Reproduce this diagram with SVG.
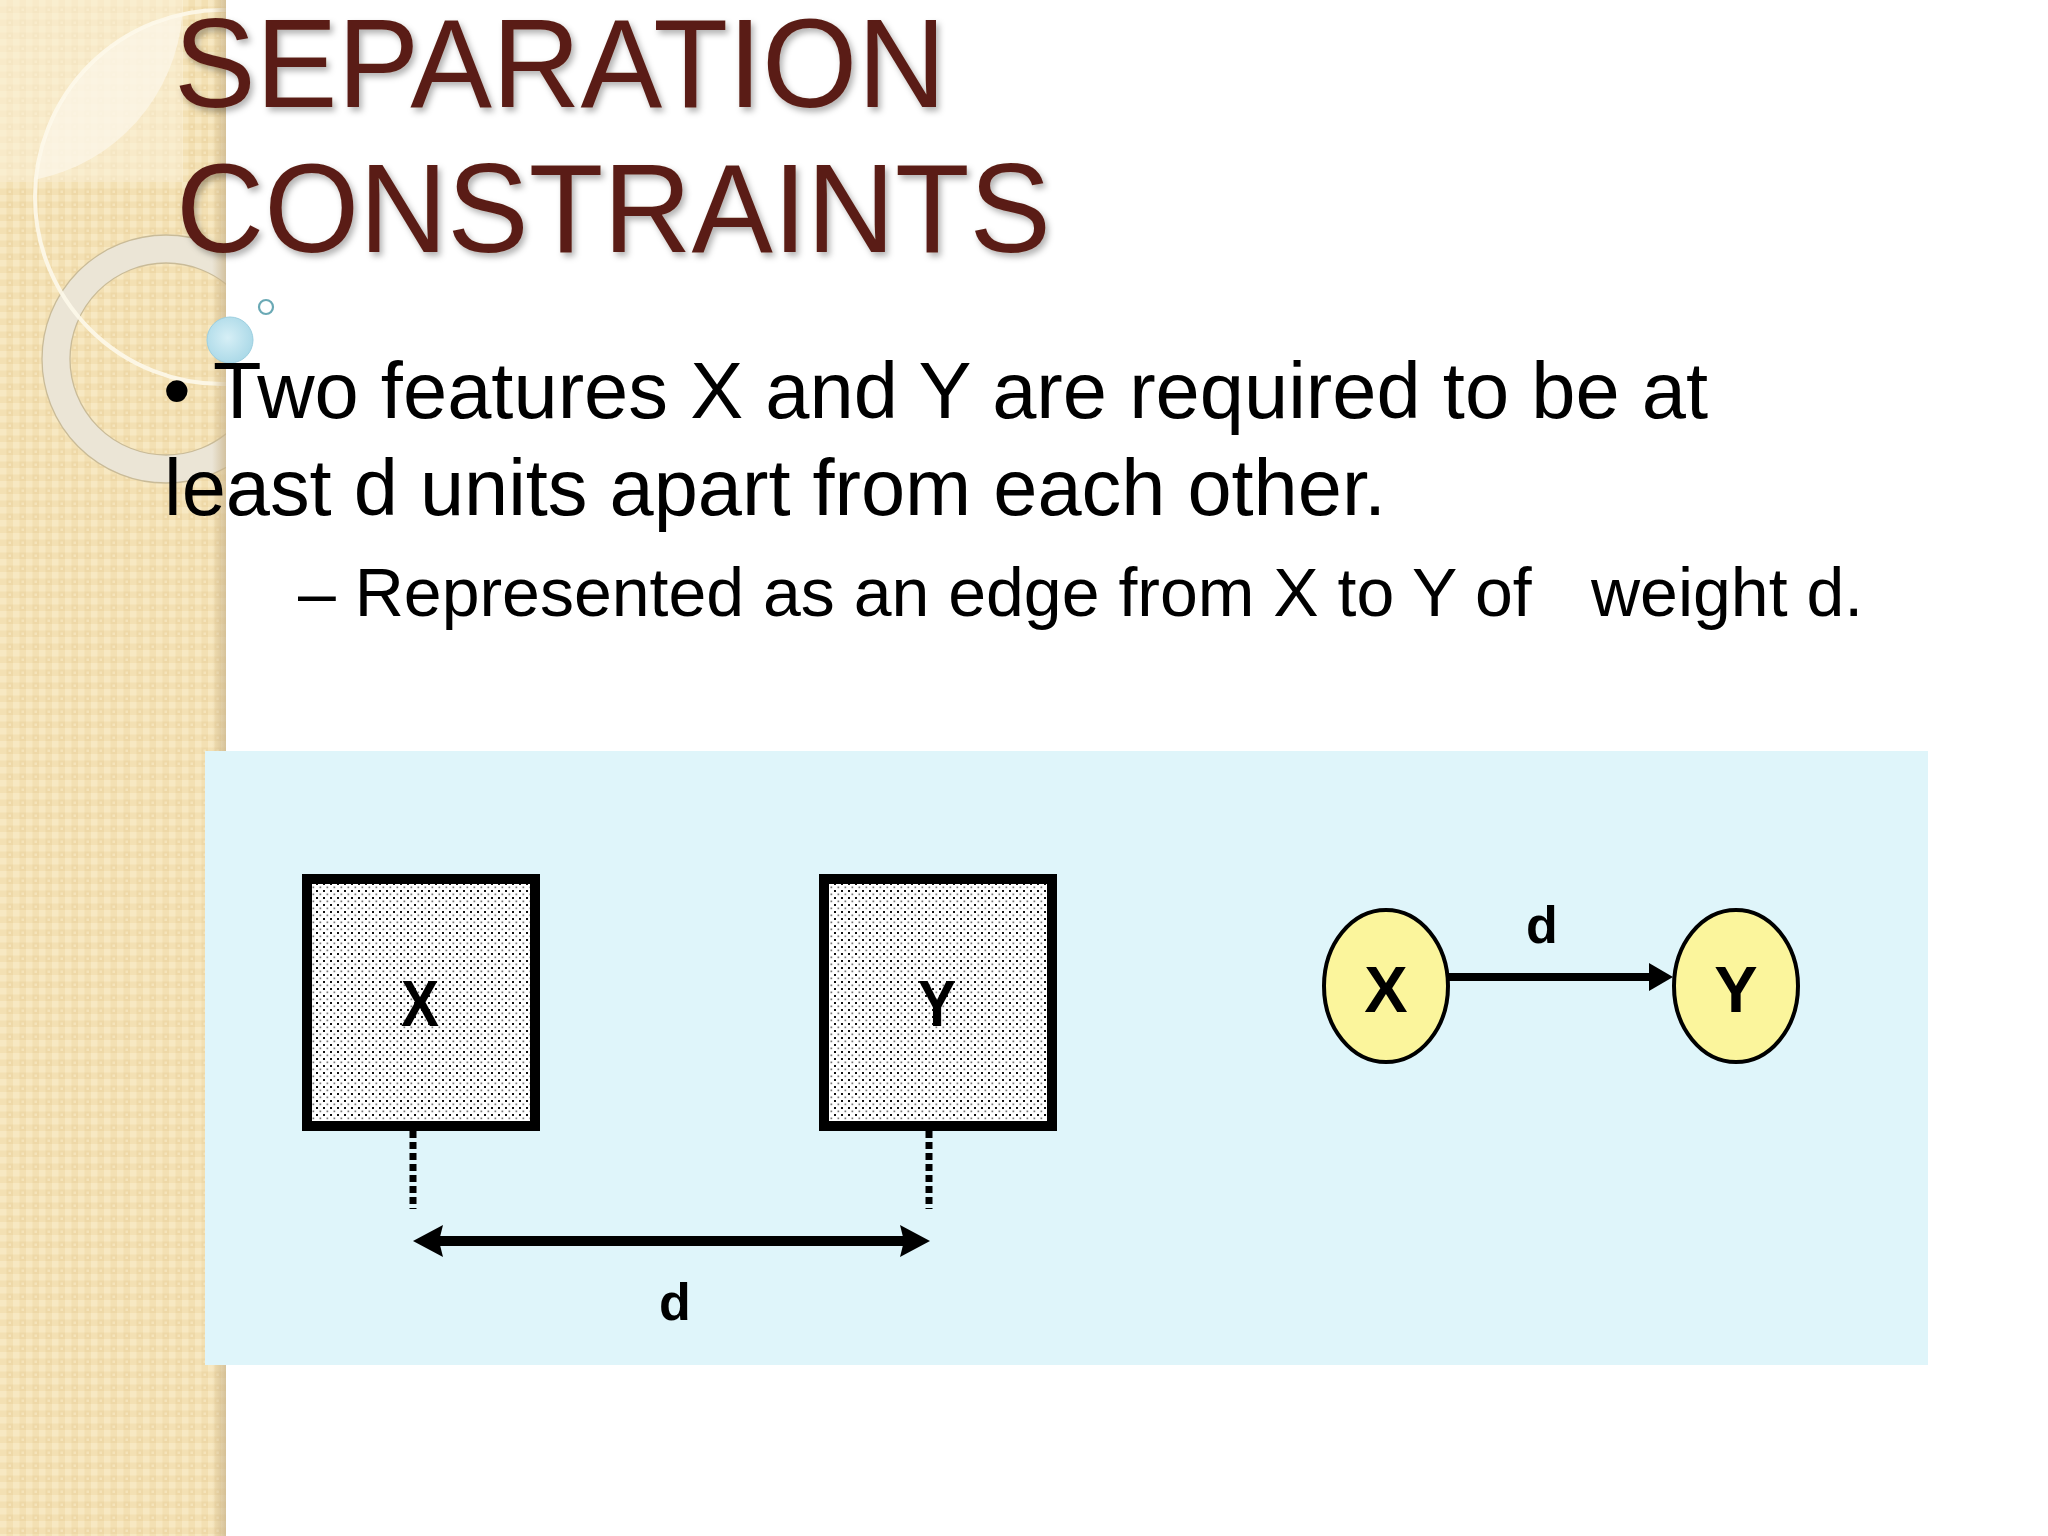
<svg xmlns="http://www.w3.org/2000/svg" width="2048" height="1536" viewBox="0 0 2048 1536">
  <style>
    .title { font-family: "Liberation Sans", Arial, sans-serif; font-size: 127px; fill: #5a1f14; }
    .body { font-family: "Liberation Sans", Arial, sans-serif; fill: #000; }
    .lbl { font-family: "Liberation Sans", Arial, sans-serif; font-weight: bold; fill: #000; text-anchor: middle; }
    .box { fill: url(#stipple); stroke: #000; stroke-width: 10; }
    .node { fill: #fbf59c; stroke: #000; stroke-width: 4; }
    .dots { stroke: #000; stroke-width: 7; stroke-dasharray: 7 4; fill: none; }
  </style>
  <defs>
    <pattern id="weave" width="13" height="13" patternUnits="userSpaceOnUse">
      <rect width="13" height="13" fill="#f3e0b3"/>
      <rect x="0" y="0" width="6.5" height="6.5" fill="#f7e8c2"/>
      <rect x="6.5" y="6.5" width="6.5" height="6.5" fill="#eed8a7"/>
      <rect x="8.5" y="8.5" width="2.5" height="2.5" fill="#f5e4bb"/>
    </pattern>
    <pattern id="stipple" width="7" height="7" patternUnits="userSpaceOnUse">
      <rect width="7" height="7" fill="#fff"/>
      <rect x="1" y="1" width="2" height="2" fill="#111"/>
      <rect x="4.5" y="4.5" width="1.7" height="1.7" fill="#777"/>
    </pattern>
    <linearGradient id="edge" x1="0" y1="0" x2="1" y2="0">
      <stop offset="0" stop-color="#c8b288" stop-opacity="0"/>
      <stop offset="1" stop-color="#c8b288" stop-opacity="0.7"/>
    </linearGradient>
    <radialGradient id="bub" cx="0.45" cy="0.45" r="0.6">
      <stop offset="0" stop-color="#d6eff6"/>
      <stop offset="1" stop-color="#a9d8e7"/>
    </radialGradient>
    <clipPath id="panelClip">
      <rect x="0" y="0" width="226" height="1536"/>
    </clipPath>
    <filter id="shadow" x="-5%" y="-30%" width="110%" height="160%">
      <feDropShadow dx="3" dy="4" stdDeviation="3" flood-color="#000" flood-opacity="0.3"/>
    </filter>
    <marker id="headL" markerUnits="userSpaceOnUse" viewBox="0 0 30 32" markerWidth="30" markerHeight="32" refX="13" refY="16" orient="auto-start-reverse">
      <path d="M0,0 L30,16 L0,32 L4,16 Z" fill="#000"/>
    </marker>
    <marker id="headS" markerUnits="userSpaceOnUse" viewBox="0 0 24 28" markerWidth="24" markerHeight="28" refX="6" refY="14" orient="auto">
      <path d="M0,0 L24,14 L0,28 Z" fill="#000"/>
    </marker>
  </defs>

  <rect x="0" y="0" width="2048" height="1536" fill="#fff"/>

  <g id="side-panel">
    <rect x="0" y="0" width="226" height="1536" fill="url(#weave)"/>
    <g clip-path="url(#panelClip)">
      <rect x="0" y="0" width="183" height="182" fill="#fbf2da" opacity="0.55"/>
      <path d="M182.4,14.3 A183,183 0 0 1 35.9,179.4 A187,187 0 0 1 182.4,14.3 Z" fill="#fcf7ea" opacity="0.7"/>
      <circle cx="166" cy="359" r="110" fill="none" stroke="#ebe5d6" stroke-width="28"/>
      <circle cx="166" cy="359" r="124" fill="none" stroke="#c9bb98" stroke-width="1.3"/>
      <circle cx="166" cy="359" r="96" fill="none" stroke="#c9bb98" stroke-width="1.3"/>
      <circle cx="222" cy="197" r="187" fill="none" stroke="#fdf8ea" stroke-width="4" opacity="0.9"/>
      <rect x="212" y="0" width="14" height="1536" fill="url(#edge)"/>
    </g>
    <circle cx="230" cy="340" r="23" fill="url(#bub)" stroke="#9ccfe0" stroke-width="1"/>
    <circle cx="266" cy="307" r="7" fill="none" stroke="#6aa9b5" stroke-width="2.2"/>
  </g>

  <g id="title" filter="url(#shadow)">
    <text class="title" x="174" y="107" textLength="772" lengthAdjust="spacingAndGlyphs">SEPARATION</text>
    <text class="title" x="176" y="252" textLength="875" lengthAdjust="spacingAndGlyphs">CONSTRAINTS</text>
  </g>

  <g id="bullets">
    <text class="body" x="163" y="418" font-size="79">•</text>
    <text class="body" x="213" y="418" font-size="79" textLength="1495" lengthAdjust="spacingAndGlyphs">Two features X and Y are required to be at</text>
    <text class="body" x="164" y="515" font-size="79" textLength="1222" lengthAdjust="spacingAndGlyphs">least d units apart from each other.</text>
    <text class="body" y="616" font-size="68"><tspan x="298">– Represented as an edge from X to Y of</tspan><tspan x="1591">weight d.</tspan></text>
  </g>

  <rect id="figure-bg" x="205" y="751" width="1723" height="614" fill="#dff5fa"/>

  <g id="box-x">
    <rect class="box" x="307" y="879" width="228" height="247"/>
    <text class="lbl" x="420" y="1026" font-size="64" textLength="38" lengthAdjust="spacingAndGlyphs">X</text>
  </g>
  <g id="box-y">
    <rect class="box" x="824" y="879" width="228" height="247"/>
    <text class="lbl" x="937" y="1026" font-size="64" textLength="38" lengthAdjust="spacingAndGlyphs">Y</text>
  </g>
  <g id="node-x">
    <ellipse class="node" cx="1386" cy="986" rx="62" ry="76"/>
    <text class="lbl" x="1386" y="1012" font-size="65">X</text>
  </g>
  <g id="node-y">
    <ellipse class="node" cx="1736" cy="986" rx="62" ry="76"/>
    <text class="lbl" x="1736" y="1012" font-size="65">Y</text>
  </g>

  <g id="connectors">
    <line class="dots" x1="413" y1="1131" x2="413" y2="1209"/>
    <line class="dots" x1="929" y1="1131" x2="929" y2="1209"/>
    <line x1="430" y1="1241" x2="913" y2="1241" stroke="#000" stroke-width="10" marker-start="url(#headL)" marker-end="url(#headL)"/>
    <text class="lbl" x="675" y="1320" font-size="52">d</text>
    <line x1="1448" y1="977" x2="1655" y2="977" stroke="#000" stroke-width="8" marker-end="url(#headS)"/>
    <text class="lbl" x="1542" y="943" font-size="52">d</text>
  </g>
</svg>
